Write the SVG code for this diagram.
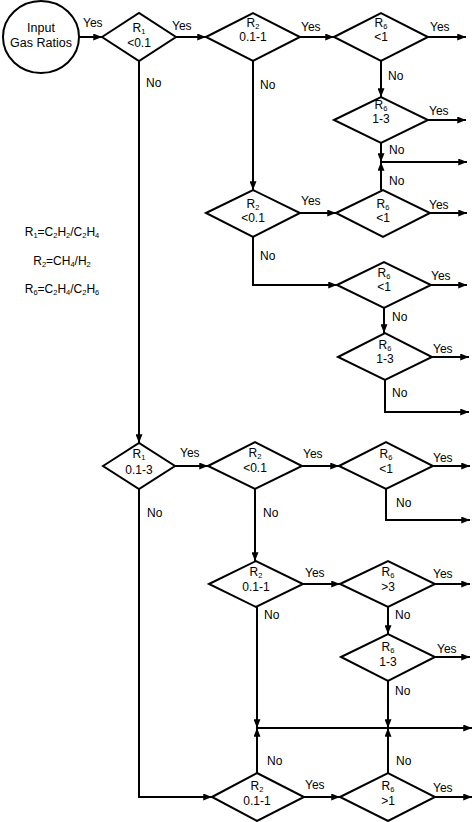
<svg xmlns="http://www.w3.org/2000/svg" width="474" height="822" viewBox="0 0 474 822">
<style>
.shape{fill:#fff;stroke:#000;stroke-width:2}
.con{fill:none;stroke:#000;stroke-width:2}
text{font-family:"Liberation Sans",Arial,sans-serif;font-size:12px;fill:#000}
.c{text-anchor:middle}
.big{font-size:12.5px}
.sub{font-size:7.5px}
</style>
<defs>
<marker id="ah" viewBox="0 0 10 8" refX="10" refY="4" markerWidth="9" markerHeight="7" markerUnits="userSpaceOnUse" orient="auto">
<path d="M0,0 L10,4 L0,8 z" fill="#000"/>
</marker>
</defs>
<rect width="474" height="822" fill="#fff"/>

<g id="connectors" class="con" marker-end="url(#ah)">
<path d="M79,37 H102"/>
<path d="M176,37 H206"/>
<path d="M300,37 H334"/>
<path d="M428,37 H466"/>
<path d="M381,61 V97"/>
<path d="M428,120 H466"/>
<path d="M381,143 V162"/>
<path d="M381,190 V162"/>
<path d="M381,162 H467"/>
<path d="M253,61 V190"/>
<path d="M300,213 H336"/>
<path d="M430,213 H467"/>
<path d="M253,237 V285 H337"/>
<path d="M431,285 H467"/>
<path d="M384,308 V333"/>
<path d="M432,357 H469"/>
<path d="M385,380 V412 H469"/>
<path d="M139,61 V443"/>
<path d="M175,466 H208"/>
<path d="M302,466 H339"/>
<path d="M433,466 H470"/>
<path d="M386,489 V520 H470"/>
<path d="M255,489 V561"/>
<path d="M303,584 H340"/>
<path d="M435,584 H470"/>
<path d="M388,607 V634"/>
<path d="M435,657 H470"/>
<path d="M388,681 V728"/>
<path d="M257,607 V728"/>
<path d="M257,728 H472"/>
<path d="M257,773 V728"/>
<path d="M388,773 V728"/>
<path d="M139,489 V797 H212"/>
<path d="M304,797 H340"/>
<path d="M435,797 H472"/>
</g>

<g id="start">
<ellipse class="shape" cx="41" cy="37" rx="38" ry="36"/>
<text class="c big" x="41" y="32">Input</text>
<text class="c big" x="41" y="47">Gas Ratios</text>
</g>

<g id="d1"><polygon class="shape" points="102,37 139,13 176,37 139,61"/>
<text class="c" x="139" y="32">R<tspan class="sub" dy="1.5">1</tspan></text><text class="c" x="139" y="47">&lt;0.1</text></g>

<g id="d2"><polygon class="shape" points="206,37 253,13 300,37 253,61"/>
<text class="c" x="253" y="27">R<tspan class="sub" dy="1.5">2</tspan></text><text class="c" x="253" y="41">0.1-1</text></g>

<g id="d3"><polygon class="shape" points="334,37 381,13 428,37 381,61"/>
<text class="c" x="381" y="27">R<tspan class="sub" dy="1.5">6</tspan></text><text class="c" x="381" y="41">&lt;1</text></g>

<g id="d4"><polygon class="shape" points="334,120 381,97 428,120 381,143"/>
<text class="c" x="381" y="109">R<tspan class="sub" dy="1.5">6</tspan></text><text class="c" x="381" y="123">1-3</text></g>

<g id="d5"><polygon class="shape" points="206,213 253,190 300,213 253,237"/>
<text class="c" x="253" y="208">R<tspan class="sub" dy="1.5">2</tspan></text><text class="c" x="253" y="222">&lt;0.1</text></g>

<g id="d6"><polygon class="shape" points="336,213 383,190 430,213 383,237"/>
<text class="c" x="383" y="208">R<tspan class="sub" dy="1.5">6</tspan></text><text class="c" x="383" y="222">&lt;1</text></g>

<g id="d7"><polygon class="shape" points="337,285 384,262 431,285 384,308"/>
<text class="c" x="384" y="277">R<tspan class="sub" dy="1.5">6</tspan></text><text class="c" x="384" y="291">&lt;1</text></g>

<g id="d8"><polygon class="shape" points="338,357 385,333 432,357 385,380"/>
<text class="c" x="385" y="349">R<tspan class="sub" dy="1.5">6</tspan></text><text class="c" x="385" y="363">1-3</text></g>

<g id="d9"><polygon class="shape" points="103,466 139,443 175,466 139,489"/>
<text class="c" x="139" y="458">R<tspan class="sub" dy="1.5">1</tspan></text><text class="c" x="139" y="474">0.1-3</text></g>

<g id="d10"><polygon class="shape" points="208,466 255,442 302,466 255,489"/>
<text class="c" x="255" y="457">R<tspan class="sub" dy="1.5">2</tspan></text><text class="c" x="255" y="472">&lt;0.1</text></g>

<g id="d11"><polygon class="shape" points="339,466 386,442 433,466 386,489"/>
<text class="c" x="386" y="458">R<tspan class="sub" dy="1.5">6</tspan></text><text class="c" x="386" y="473">&lt;1</text></g>

<g id="d12"><polygon class="shape" points="209,584 256,561 303,584 256,607"/>
<text class="c" x="256" y="576">R<tspan class="sub" dy="1.5">2</tspan></text><text class="c" x="256" y="591">0.1-1</text></g>

<g id="d13"><polygon class="shape" points="340,584 388,561 435,584 388,607"/>
<text class="c" x="388" y="576">R<tspan class="sub" dy="1.5">6</tspan></text><text class="c" x="388" y="591">&gt;3</text></g>

<g id="d14"><polygon class="shape" points="341,657 388,634 435,657 388,681"/>
<text class="c" x="388" y="651">R<tspan class="sub" dy="1.5">6</tspan></text><text class="c" x="388" y="666">1-3</text></g>

<g id="d15"><polygon class="shape" points="212,797 257,773 304,797 257,821"/>
<text class="c" x="257" y="790">R<tspan class="sub" dy="1.5">2</tspan></text><text class="c" x="257" y="805">0.1-1</text></g>

<g id="d16"><polygon class="shape" points="340,797 388,773 435,797 388,821"/>
<text class="c" x="388" y="790">R<tspan class="sub" dy="1.5">6</tspan></text><text class="c" x="388" y="805">&gt;1</text></g>

<g id="labels">
<text x="83" y="27">Yes</text>
<text x="172" y="30">Yes</text>
<text x="146" y="87">No</text>
<text x="301" y="31">Yes</text>
<text x="260" y="89">No</text>
<text x="430" y="31">Yes</text>
<text x="388" y="80">No</text>
<text x="429" y="115">Yes</text>
<text x="389" y="154">No</text>
<text x="389" y="185">No</text>
<text x="301" y="205">Yes</text>
<text x="429" y="209">Yes</text>
<text x="260" y="260">No</text>
<text x="431" y="280">Yes</text>
<text x="392" y="321">No</text>
<text x="433" y="353">Yes</text>
<text x="392" y="397">No</text>
<text x="180" y="457">Yes</text>
<text x="147" y="517">No</text>
<text x="303" y="458">Yes</text>
<text x="263" y="517">No</text>
<text x="433" y="462">Yes</text>
<text x="396" y="507">No</text>
<text x="305" y="577">Yes</text>
<text x="264" y="619">No</text>
<text x="433" y="578">Yes</text>
<text x="395" y="619">No</text>
<text x="437" y="653">Yes</text>
<text x="395" y="695">No</text>
<text x="267" y="765">No</text>
<text x="305" y="789">Yes</text>
<text x="396" y="765">No</text>
<text x="433" y="792">Yes</text>
</g>

<g id="legend">
<text class="c" x="62" y="236">R<tspan class="sub" dy="2">1</tspan><tspan dy="-2">=C</tspan><tspan class="sub" dy="2">2</tspan><tspan dy="-2">H</tspan><tspan class="sub" dy="2">2</tspan><tspan dy="-2">/C</tspan><tspan class="sub" dy="2">2</tspan><tspan dy="-2">H</tspan><tspan class="sub" dy="2">4</tspan></text>
<text class="c" x="62" y="265">R<tspan class="sub" dy="2">2</tspan><tspan dy="-2">=CH</tspan><tspan class="sub" dy="2">4</tspan><tspan dy="-2">/H</tspan><tspan class="sub" dy="2">2</tspan></text>
<text class="c" x="62" y="293">R<tspan class="sub" dy="2">6</tspan><tspan dy="-2">=C</tspan><tspan class="sub" dy="2">2</tspan><tspan dy="-2">H</tspan><tspan class="sub" dy="2">4</tspan><tspan dy="-2">/C</tspan><tspan class="sub" dy="2">2</tspan><tspan dy="-2">H</tspan><tspan class="sub" dy="2">6</tspan></text>
</g>
</svg>
